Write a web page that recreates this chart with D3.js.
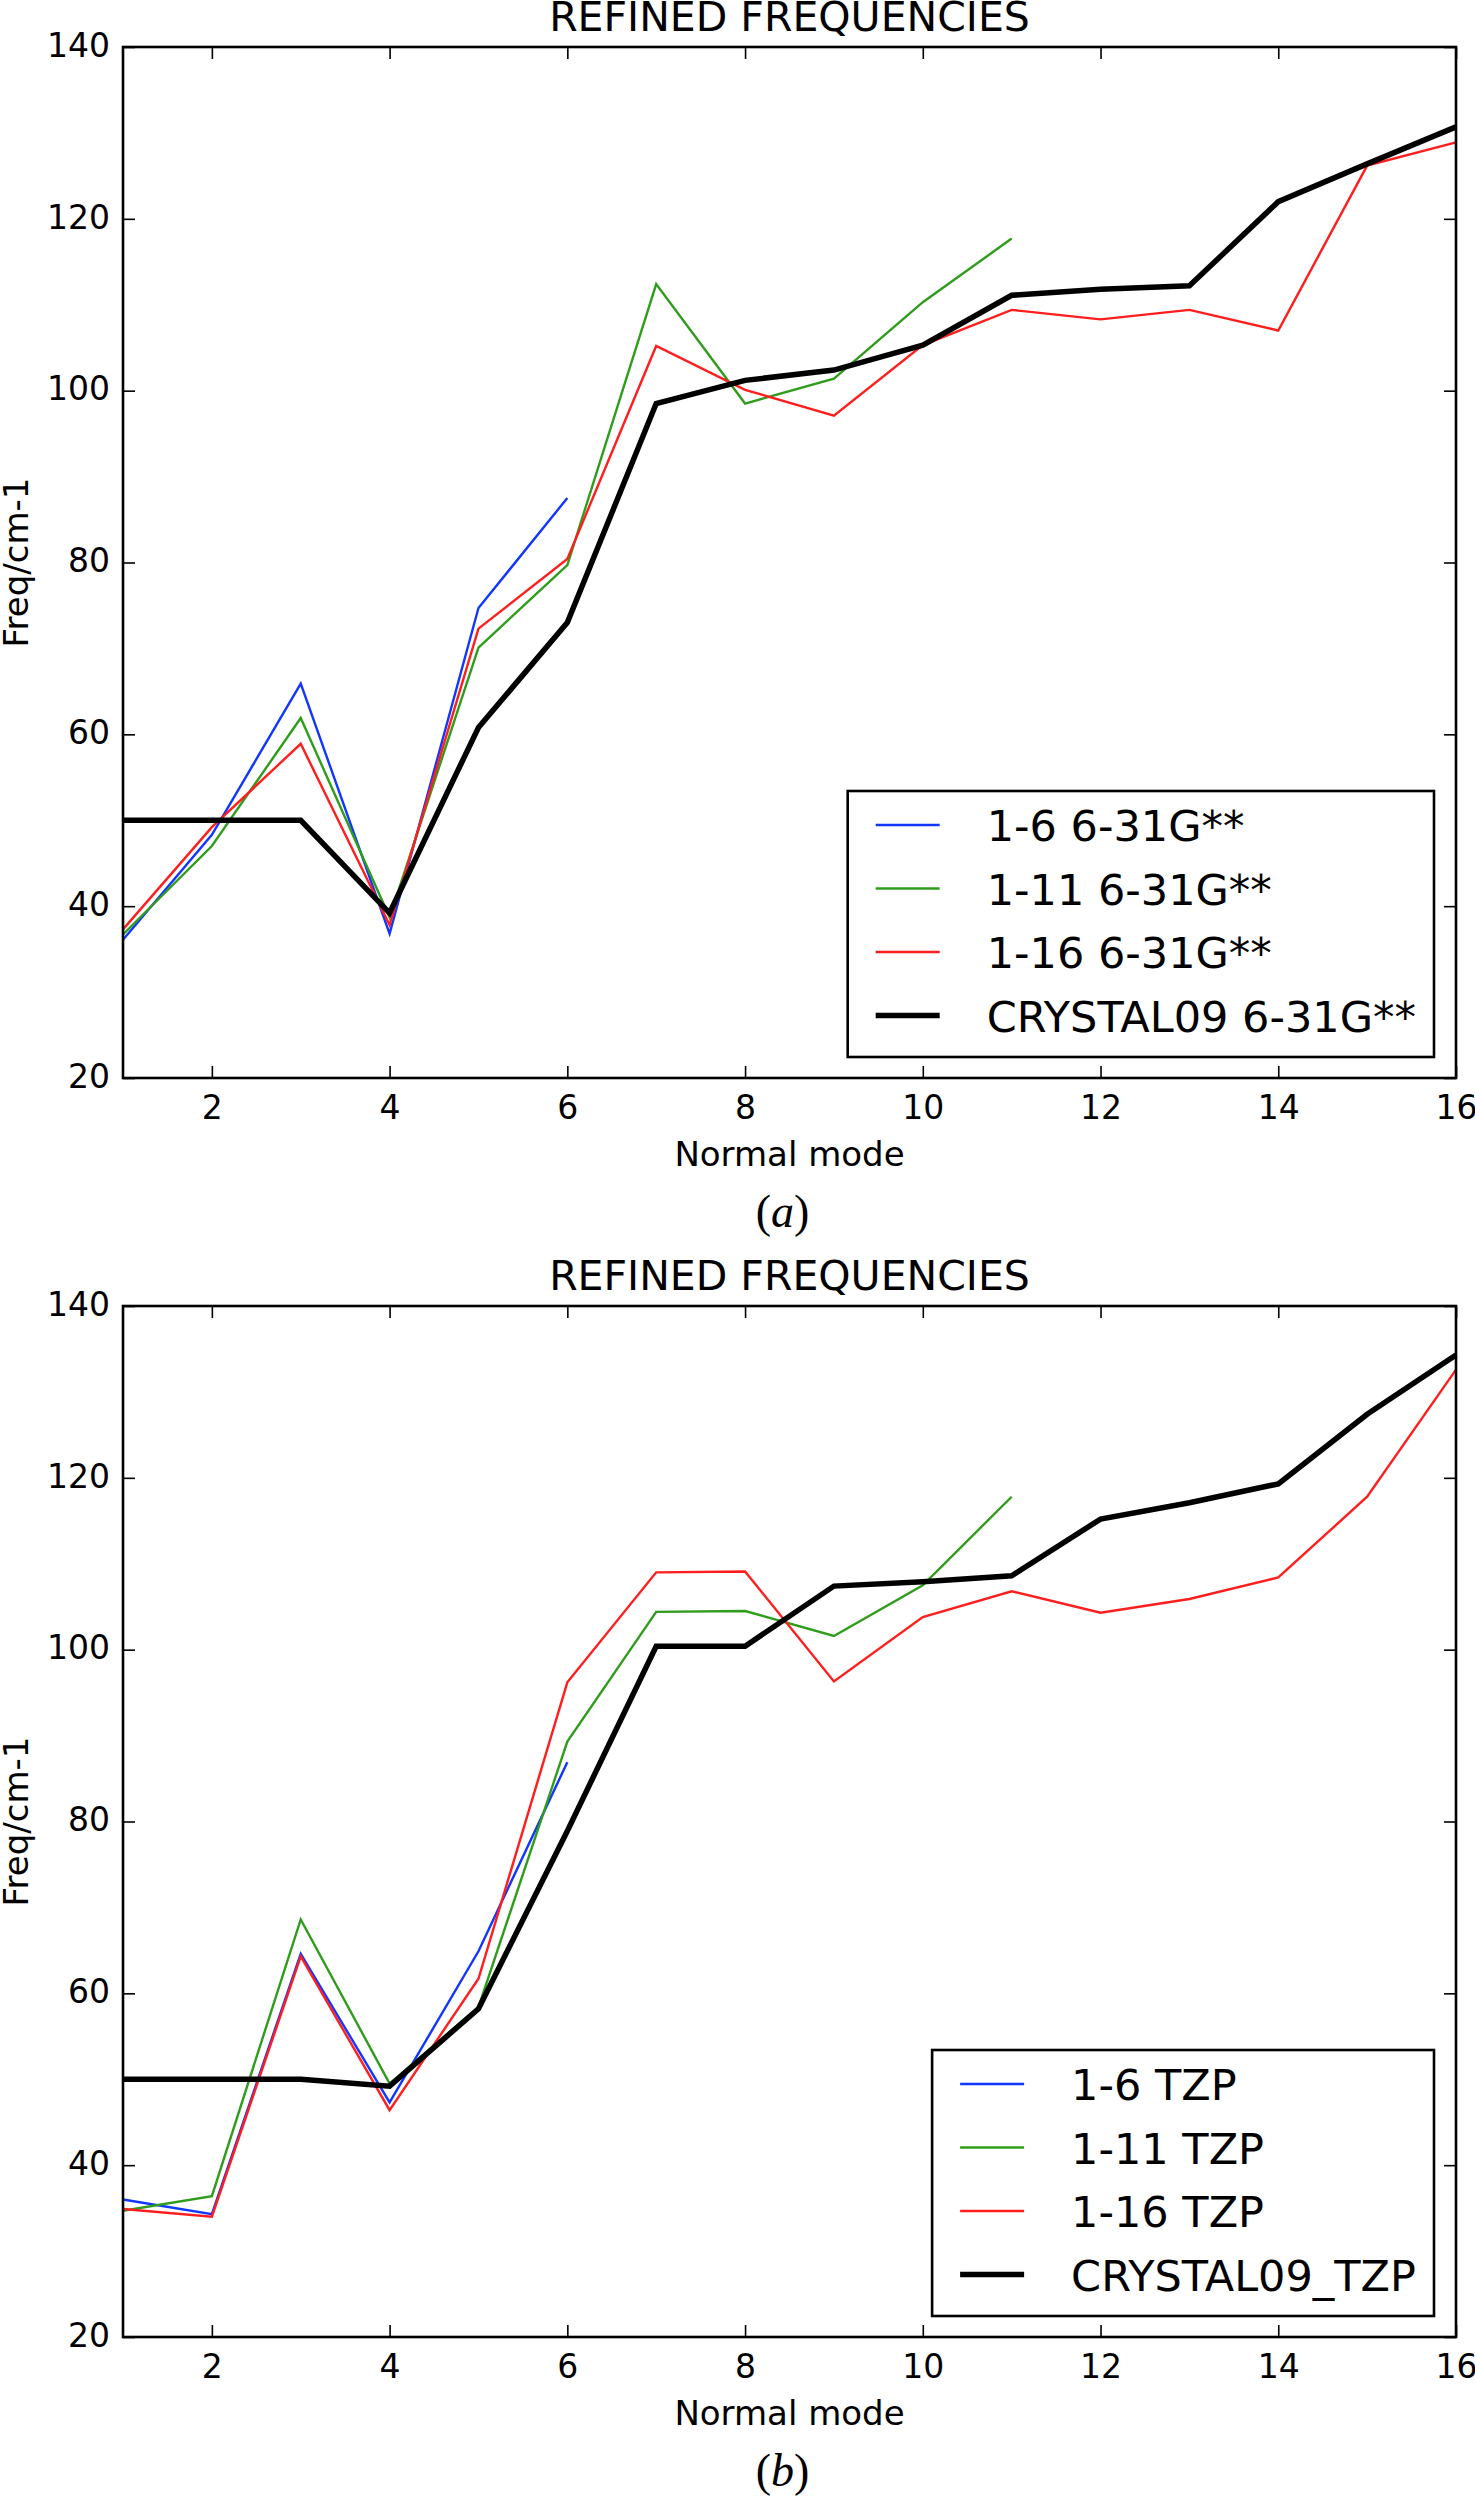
<!DOCTYPE html>
<html>
<head>
<meta charset="utf-8">
<script src="https://cdn.jsdelivr.net/npm/d3@7"></script>
<style>
  body { margin: 0; background: #fff; }
  svg text { font-family: "DejaVu Sans", sans-serif; fill: #000; }
</style>
</head>
<body>
<svg id="chart" width="1475" height="2500"></svg>
<script>
// normal modes on the x axis
const modes = [1, 2, 3, 4, 5, 6, 7, 8, 9, 10, 11, 12, 13, 14, 15, 16];
const xTicks = [2, 4, 6, 8, 10, 12, 14, 16];
const yTicks = [20, 40, 60, 80, 100, 120, 140];

// panel (a): 6-31G** basis
const a16 = [36.1, 48.3, 65.9, 36.8, 74.7, 87.5];
const a111 = [36.7, 47.0, 61.9, 38.7, 70.1, 79.7, 112.4, 98.5, 101.4, 110.3, 117.7];
const a116 = [37.3, 49.2, 58.9, 37.8, 72.3, 80.4, 105.2, 100.1, 97.1, 105.3, 109.4, 108.3, 109.4, 107.0, 126.2, 128.9];
const aCrystal = [50.0, 50.0, 50.0, 39.2, 60.8, 73.0, 98.5, 101.2, 102.4, 105.3, 111.1, 111.8, 112.2, 122.0, 126.4, 130.7];
const aNames = ['1-6 6-31G**', '1-11 6-31G**', '1-16 6-31G**', 'CRYSTAL09 6-31G**'];

// panel (b): TZP basis
const b16 = [36.0, 34.3, 64.6, 47.3, 64.9, 86.9];
const b111 = [34.7, 36.4, 68.6, 49.5, 58.4, 89.3, 104.4, 104.5, 101.6, 107.5, 117.8];
const b116 = [34.9, 34.0, 64.3, 46.4, 61.7, 96.2, 109.0, 109.1, 96.3, 103.8, 106.8, 104.3, 105.9, 108.4, 117.8, 132.6];
const bCrystal = [50.0, 50.0, 50.0, 49.2, 58.2, 78.9, 100.4, 100.4, 107.4, 107.9, 108.6, 115.2, 117.1, 119.3, 127.4, 134.3];
const bNames = ['1-6 TZP', '1-11 TZP', '1-16 TZP', 'CRYSTAL09_TZP'];

const colors = ['#1236ff', '#2f9c1c', '#ff1e1e', '#000000'];
const widths = [2.4, 2.4, 2.4, 5.5];

const svg = d3.select('#chart');
const left = 123, plotW = 1333, plotH = 1031;

// draws one panel with frame, inward ticks, lines and legend
function drawPanel(top, series, names, tag) {
	const g = svg.append('g').attr('transform', `translate(${left},${top})`);
	const x = d3.scaleLinear().domain([1, 16]).range([0, plotW]);
	const y = d3.scaleLinear().domain([20, 140]).range([plotH, 0]);

	const bottom = g.append('g')
		.attr('transform', `translate(0,${plotH})`)
		.call(d3.axisBottom(x).tickValues(xTicks).tickSizeInner(-12).tickSizeOuter(0).tickPadding(0));
	bottom.selectAll('text').attr('y', 41).attr('dy', null).style('font-size', '33px');

	const leftAx = g.append('g')
		.call(d3.axisLeft(y).tickValues(yTicks).tickSizeInner(-12).tickSizeOuter(0).tickPadding(0));
	leftAx.selectAll('text').attr('x', -13).attr('dy', '0.28em').style('font-size', '33px');

	g.append('g')
		.call(d3.axisTop(x).tickValues(xTicks).tickSizeInner(-12).tickSizeOuter(0).tickFormat(''));
	g.append('g')
		.attr('transform', `translate(${plotW},0)`)
		.call(d3.axisRight(y).tickValues(yTicks).tickSizeInner(-12).tickSizeOuter(0).tickFormat(''));

	g.selectAll('.domain').remove();
	g.selectAll('.tick line').attr('stroke', '#000').attr('stroke-width', 1.6);

	const line = d3.line()
		.x((d, i) => x(modes[i]))
		.y(d => y(d));

	series.forEach((s, i) => {
		g.append('path')
			.datum(s)
			.attr('fill', 'none')
			.attr('stroke', colors[i])
			.attr('stroke-width', widths[i])
			.attr('stroke-linejoin', 'miter')
			.attr('d', line);
	});

	g.append('rect')
		.attr('width', plotW)
		.attr('height', plotH)
		.attr('fill', 'none')
		.attr('stroke', '#000')
		.attr('stroke-width', 2.6);

	// titles and axis labels
	g.append('text')
		.attr('x', plotW / 2)
		.attr('y', -16)
		.attr('text-anchor', 'middle')
		.style('font-size', '41px')
		.text('REFINED FREQUENCIES');

	g.append('text')
		.attr('x', plotW / 2)
		.attr('y', plotH + 88)
		.attr('text-anchor', 'middle')
		.style('font-size', '34px')
		.text('Normal mode');

	g.append('text')
		.attr('transform', `translate(${28 - left},${plotH / 2}) rotate(-90)`)
		.attr('text-anchor', 'middle')
		.style('font-size', '34px')
		.text('Freq/cm-1');

	const cap = g.append('text')
		.attr('x', plotW / 2 - 7)
		.attr('y', plotH + 149)
		.attr('text-anchor', 'middle')
		.style('font-family', '"Liberation Serif", "DejaVu Serif", serif')
		.style('font-size', '46px');
	cap.append('tspan').text('(');
	cap.append('tspan').style('font-style', 'italic').text(tag);
	cap.append('tspan').text(')');

	// legend box in the lower right corner
	const leg = g.append('g');
	const labels = leg.selectAll('text.leg')
		.data(names)
		.enter()
		.append('text')
		.attr('class', 'leg')
		.style('font-size', '43px')
		.text(d => d);
	const textW = d3.max(labels.nodes(), n => n.getComputedTextLength());
	const boxW = 28 + 64 + 47 + textW + 18;
	const boxH = 266;
	const bx = plotW - 22 - boxW;
	const by = plotH - 21 - boxH;
	const rowY = i => by + 34 + i * 63.5;

	leg.insert('rect', 'text')
		.attr('x', bx)
		.attr('y', by)
		.attr('width', boxW)
		.attr('height', boxH)
		.attr('fill', '#fff')
		.attr('stroke', '#000')
		.attr('stroke-width', 2.6);

	names.forEach((n, i) => {
		leg.append('line')
			.attr('x1', bx + 28)
			.attr('x2', bx + 92)
			.attr('y1', rowY(i))
			.attr('y2', rowY(i))
			.attr('stroke', colors[i])
			.attr('stroke-width', widths[i]);
	});
	labels
		.attr('x', bx + 139)
		.attr('y', (d, i) => rowY(i) + 16);
}

drawPanel(47, [a16, a111, a116, aCrystal], aNames, 'a');
drawPanel(1306, [b16, b111, b116, bCrystal], bNames, 'b');
</script>
</body>
</html>
